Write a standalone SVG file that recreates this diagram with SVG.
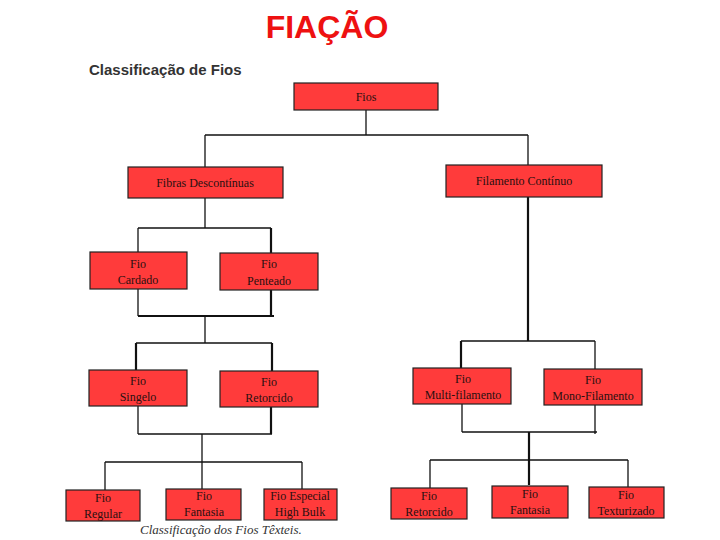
<svg xmlns="http://www.w3.org/2000/svg" width="720" height="540" viewBox="0 0 720 540">
<style>
.b rect{fill:#ff3b3b;stroke:#222;stroke-width:1.2}
.b text{font-family:"Liberation Serif",serif;font-size:12px;fill:#2a1010;text-anchor:middle}
.c line{stroke:#111;stroke-width:1.3}
.c .t{stroke-width:2.2}
</style>
<rect width="720" height="540" fill="#fff"/>
<text x="327" y="38" font-family="Liberation Sans,sans-serif" font-size="32" font-weight="bold" fill="#ee1111" text-anchor="middle">FIAÇÃO</text>
<text x="89" y="75" font-family="Liberation Sans,sans-serif" font-size="15" font-weight="bold" fill="#333">Classificação de Fios</text>
<g class="c">
<line x1="366" y1="110" x2="366" y2="135"/><line x1="205" y1="135" x2="528" y2="135"/>
<line x1="205" y1="135" x2="205" y2="167"/><line x1="528" y1="135" x2="528" y2="165"/>
<line x1="205" y1="198" x2="205" y2="228"/><line x1="138" y1="228" x2="271" y2="228"/>
<line x1="138" y1="228" x2="138" y2="252"/><line class="t" x1="271" y1="228" x2="271" y2="253"/>
<line x1="138" y1="289" x2="138" y2="316"/><line class="t" x1="271" y1="290" x2="271" y2="316"/>
<line class="t" x1="138" y1="316" x2="274" y2="316"/>
<line x1="205" y1="316" x2="205" y2="343"/><line x1="136" y1="343" x2="272" y2="343"/>
<line class="t" x1="136" y1="343" x2="136" y2="370"/><line class="t" x1="272" y1="343" x2="272" y2="371"/>
<line x1="138" y1="406" x2="138" y2="434"/><line class="t" x1="271" y1="407" x2="271" y2="434"/>
<line x1="138" y1="434" x2="272" y2="434"/>
<line x1="202" y1="434" x2="202" y2="462"/><line x1="105" y1="462" x2="302" y2="462"/>
<line x1="105" y1="462" x2="105" y2="490"/><line x1="202" y1="462" x2="202" y2="489"/><line x1="302" y1="462" x2="302" y2="489"/>
<line class="t" x1="528" y1="197" x2="528" y2="341"/>
<line x1="461" y1="341" x2="595" y2="341"/>
<line class="t" x1="461" y1="341" x2="461" y2="368"/><line x1="595" y1="341" x2="595" y2="369"/>
<line x1="462" y1="404" x2="462" y2="432"/><line x1="595" y1="405" x2="595" y2="434"/>
<line x1="462" y1="432" x2="597" y2="432"/>
<line class="t" x1="529" y1="432" x2="529" y2="485"/><line x1="430" y1="460" x2="628" y2="460"/>
<line x1="430" y1="460" x2="430" y2="488"/><line x1="628" y1="460" x2="628" y2="487"/>
</g>
<g id="fios" class="b"><rect x="294" y="83" width="144" height="27"/><text x="366" y="101">Fios</text></g>
<g id="fibras" class="b"><rect x="128" y="167" width="155" height="31"/><text x="205" y="187">Fibras Descontínuas</text></g>
<g id="filamento" class="b"><rect x="446" y="165" width="156" height="32"/><text x="524" y="185">Filamento Contínuo</text></g>
<g id="cardado" class="b"><rect x="90" y="252" width="97" height="37"/><text x="138" y="268">Fio</text><text x="138" y="284">Cardado</text></g>
<g id="penteado" class="b"><rect x="220" y="253" width="98" height="37"/><text x="269" y="268">Fio</text><text x="269" y="285">Penteado</text></g>
<g id="singelo" class="b"><rect x="89" y="370" width="98" height="36"/><text x="138" y="385">Fio</text><text x="138" y="401">Singelo</text></g>
<g id="retorcido1" class="b"><rect x="220" y="371" width="98" height="36"/><text x="269" y="386">Fio</text><text x="269" y="402">Retorcido</text></g>
<g id="multi" class="b"><rect x="413" y="368" width="98" height="36"/><text x="463" y="383">Fio</text><text x="463" y="399">Multi-filamento</text></g>
<g id="mono" class="b"><rect x="544" y="369" width="98" height="36"/><text x="593" y="384">Fio</text><text x="593" y="400">Mono-Filamento</text></g>
<g id="regular" class="b"><rect x="66" y="490" width="74" height="31"/><text x="103" y="502">Fio</text><text x="103" y="518">Regular</text></g>
<g id="fantasia1" class="b"><rect x="166" y="489" width="75" height="31"/><text x="204" y="500">Fio</text><text x="204" y="516">Fantasia</text></g>
<g id="especial" class="b"><rect x="264" y="489" width="73" height="31"/><text x="300" y="500">Fio Especial</text><text x="300" y="516">High Bulk</text></g>
<g id="retorcido2" class="b"><rect x="391" y="488" width="76" height="31"/><text x="429" y="500">Fio</text><text x="429" y="516">Retorcido</text></g>
<g id="fantasia2" class="b"><rect x="492" y="486" width="76" height="32"/><text x="530" y="498">Fio</text><text x="530" y="514">Fantasia</text></g>
<g id="texturizado" class="b"><rect x="589" y="487" width="75" height="31"/><text x="626" y="499">Fio</text><text x="626" y="515">Texturizado</text></g>
<text x="140" y="534" font-family="Liberation Serif,serif" font-size="13" font-style="italic" fill="#333">Classificação dos Fios Têxteis.</text>
</svg>
